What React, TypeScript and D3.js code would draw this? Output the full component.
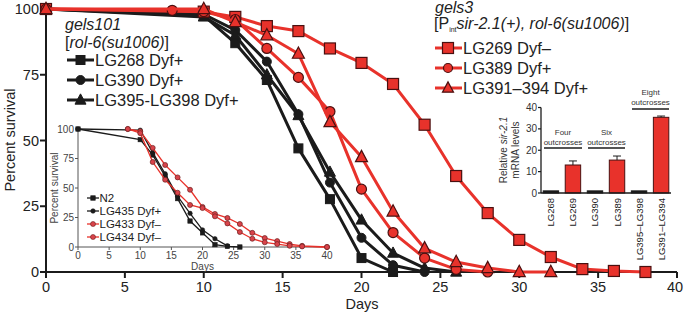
import React from "react";
import * as d3 from "d3";

type Pt = [number, number];

// ---- Main survival data (day, percent survival) ----
const LG268: Pt[] = [[0,100],[10,97.5],[12,87],[14,73],[16,47],[18,27.7],[20,5.3],[22,0]];
const LG390: Pt[] = [[0,100],[10,98],[12,92],[14,80],[16,60],[18,34],[20,13],[22,2.6],[24,0]];
const LG395: Pt[] = [[0,100],[10,97],[12,90],[14,75],[16,59.5],[18,38],[20,19.8],[22,7.2],[24,1.5],[26,0]];
const LG269: Pt[] = [[0,100],[10,99],[12,97],[14,93.5],[16,91.6],[18,85],[20,79.5],[22,71.5],[24,56],[26,36.5],[28,22.4],[30,12.2],[32,5.7],[34,1.1],[36,0.4],[38,0]];
const LG389: Pt[] = [[0,100],[8,99.5],[10,99],[12,96],[14,85],[16,74],[18,61],[20,31.5],[22,15],[24,5.3],[26,1],[28,0]];
const LG391: Pt[] = [[0,100],[10,100],[12,95],[14,90],[16,83],[18,57],[20,43.7],[22,23],[24,9],[26,3.8],[28,1.5],[30,0],[32,0]];

const mainXTicks = [0,5,10,15,20,25,30,35,40];
const mainYTicks = [0,25,50,75,100];

// ---- Inset survival data ----
const N2: Pt[] = [[0,100],[10,91],[12,78],[14,60],[16,41],[18,22],[20,12],[22,2],[24,0.5],[26,0]];
const LG435: Pt[] = [[0,100],[10,99],[12,80],[14,62],[16,43],[18,28.5],[20,14.5],[22,7],[24,1]];
const LG433: Pt[] = [[8,100],[10,98],[12,84],[14,69.5],[16,59],[18,48.5],[20,34],[22,28],[24,24.6],[26,19.5],[28,12],[30,7.6],[32,5],[34,2.5],[36,1],[40,0]];
const LG434: Pt[] = [[8,100],[10,96.5],[12,72],[14,57],[16,46],[18,35.6],[20,33],[22,26],[24,20],[26,12.7],[28,7],[30,4],[32,2.5],[34,1],[36,0.5],[40,0]];
const insetXTicks = [0,5,10,15,20,25,30,35,40];
const insetYTicks = [0,25,50,75,100];

// ---- Bar chart data ----
const barCats = ["LG268","LG269","LG390","LG389","LG395–LG398","LG391–LG394"];
const barVals = [1, 13.1, 1, 15.4, 1, 35.4];
const barErr = [0, 1.9, 0, 1.9, 0, 0.6];
const barIsRed = [false, true, false, true, false, true];
const barYTicks = [0,10,20,30,40];

const RED = "#e8322b";
const DARK = "#1b1b1b";
const EDGE = "#4a1010";
const FONT = "'Liberation Sans', Arial, Helvetica, sans-serif";

function Marker({ shape, x, y, size, fill, stroke, sw }: { shape: string; x: number; y: number; size: number; fill: string; stroke: string; sw: number }) {
  if (shape === "square") {
    return <rect x={x - size / 2} y={y - size / 2} width={size} height={size} fill={fill} stroke={stroke} strokeWidth={sw} />;
  }
  if (shape === "circle") {
    return <circle cx={x} cy={y} r={size / 2} fill={fill} stroke={stroke} strokeWidth={sw} />;
  }
  const h = size * 0.9;
  const p = `M${x},${y - h * 0.62} L${x + size / 2},${y + h * 0.42} L${x - size / 2},${y + h * 0.42} Z`;
  return <path d={p} fill={fill} stroke={stroke} strokeWidth={sw} />;
}

export default function App() {
  // main scales
  const x = d3.scaleLinear().domain([0, 40]).range([46, 677]);
  const y = d3.scaleLinear().domain([0, 100]).range([272, 9]);
  const line = d3.line<Pt>().x(d => x(d[0])).y(d => y(d[1]));

  // inset scales
  const ix = d3.scaleLinear().domain([0, 40]).range([78, 327]);
  const iy = d3.scaleLinear().domain([0, 100]).range([247, 129]);
  const iline = d3.line<Pt>().x(d => ix(d[0])).y(d => iy(d[1]));

  // bar scales
  const bx = d3.scaleBand<string>().domain(barCats).range([541, 671]).paddingInner(0.3).paddingOuter(0.1);
  const by = d3.scaleLinear().domain([0, 40]).range([193, 107.5]);

  const blackSeries = [
    { data: LG268, shape: "square", size: 9 },
    { data: LG390, shape: "circle", size: 9 },
    { data: LG395, shape: "triangle", size: 11 },
  ];
  const redSeries = [
    { data: LG269, shape: "square", size: 11 },
    { data: LG389, shape: "circle", size: 10 },
    { data: LG391, shape: "triangle", size: 12 },
  ];

  return (
    <div style={{ position: "absolute", left: 0, top: 0 }}>
      <svg width={685} height={313} style={{ display: "block", fontFamily: FONT }}>
        <rect width={685} height={313} fill="#fff" />

        {/* Main axes */}
        <line x1={x(0)} x2={x(40)} y1={y(0)} y2={y(0)} stroke={DARK} strokeWidth={2} />
        <line x1={x(0)} x2={x(0)} y1={y(0)} y2={y(100)} stroke={DARK} strokeWidth={2} />
        {mainYTicks.map(t => (
          <g key={"my" + t}>
            <line x1={x(0) - 6} x2={x(0)} y1={y(t)} y2={y(t)} stroke={DARK} strokeWidth={2} />
            <text x={x(0) - 7} y={y(t) + 5} fontSize={14.5} textAnchor="end" fill="#222">{t}</text>
          </g>
        ))}
        {mainXTicks.map(t => (
          <g key={"mx" + t}>
            <line x1={x(t)} x2={x(t)} y1={y(0)} y2={y(0) + 6} stroke={DARK} strokeWidth={2} />
            <text x={t === 40 ? x(t) - 2 : x(t)} y={292} fontSize={14.5} textAnchor="middle" fill="#222">{t}</text>
          </g>
        ))}
        <text x={362} y={309} fontSize={14.5} textAnchor="middle" fill="#222">Days</text>
        <text transform="translate(15,140) rotate(-90)" fontSize={14.5} textAnchor="middle" fill="#222">Percent survival</text>

        {/* Inset survival chart */}
        <line x1={ix(0)} x2={ix(40)} y1={iy(0)} y2={iy(0)} stroke="#555" strokeWidth={1} />
        <line x1={ix(0)} x2={ix(0)} y1={iy(0)} y2={iy(100)} stroke="#555" strokeWidth={1} />
        {insetYTicks.map(t => (
          <g key={"iy" + t}>
            <line x1={ix(0) - 3} x2={ix(0)} y1={iy(t)} y2={iy(t)} stroke="#555" />
            <text x={ix(0) - 4} y={iy(t) + 3.5} fontSize={10} textAnchor="end" fill="#444">{t}</text>
          </g>
        ))}
        {insetXTicks.map(t => (
          <g key={"ix" + t}>
            <line x1={ix(t)} x2={ix(t)} y1={iy(0)} y2={iy(0) + 3} stroke="#555" />
            <text x={ix(t)} y={iy(0) + 12} fontSize={10} textAnchor="middle" fill="#444">{t}</text>
          </g>
        ))}
        <text x={ix(20)} y={270} fontSize={10} textAnchor="middle" fill="#444">Days</text>
        <text transform={`translate(58,${iy(50)}) rotate(-90)`} fontSize={10} textAnchor="middle" fill="#444">Percent survival</text>

        {[N2, LG435].map((s, i) => (
          <g key={"ib" + i}>
            <path d={iline(s) || ""} fill="none" stroke={DARK} strokeWidth={1.3} />
            {s.map((d, j) => (
              <Marker key={j} shape={i === 0 ? "square" : "circle"} x={ix(d[0])} y={iy(d[1])} size={4.5} fill={DARK} stroke={DARK} sw={0.5} />
            ))}
          </g>
        ))}
        {[LG433, LG434].map((s, i) => (
          <g key={"ir" + i}>
            <path d={iline(s) || ""} fill="none" stroke={RED} strokeWidth={1.3} />
            {s.map((d, j) => (
              <Marker key={j} shape="circle" x={ix(d[0])} y={iy(d[1])} size={5} fill="#d9434a" stroke="#6a2020" sw={0.7} />
            ))}
          </g>
        ))}
        {/* inset legend */}
        {["N2", "LG435 Dyf+", "LG433 Dyf–", "LG434 Dyf–"].map((lab, i) => {
          const yy = 198 + i * 13;
          const red = i >= 2;
          return (
            <g key={"il" + i}>
              <line x1={87} x2={99} y1={yy} y2={yy} stroke={red ? RED : DARK} strokeWidth={1.3} />
              <Marker shape={i === 0 ? "square" : "circle"} x={93} y={yy} size={red ? 5 : 4.5} fill={red ? "#d9434a" : DARK} stroke={red ? "#6a2020" : DARK} sw={0.6} />
              <text x={99.5} y={yy + 4.2} fontSize={11.5} fill="#222">{lab}</text>
            </g>
          );
        })}

        {/* Main black series */}
        {blackSeries.map((s, i) => (
          <g key={"b" + i}>
            <path d={line(s.data) || ""} fill="none" stroke={DARK} strokeWidth={3} strokeLinejoin="round" />
            {s.data.map((d, j) => (
              <Marker key={j} shape={s.shape} x={x(d[0])} y={y(d[1])} size={s.size} fill={DARK} stroke={DARK} sw={1} />
            ))}
          </g>
        ))}
        {/* Main red series */}
        {redSeries.map((s, i) => (
          <g key={"r" + i}>
            <path d={line(s.data) || ""} fill="none" stroke={RED} strokeWidth={3} strokeLinejoin="round" />
            {s.data.map((d, j) => (
              <Marker key={j} shape={s.shape} x={x(d[0])} y={y(d[1])} size={s.size} fill={RED} stroke={EDGE} sw={1.2} />
            ))}
          </g>
        ))}

        {/* Left legend */}
        <text x={65} y={30} fontSize={16} fontStyle="italic" fill="#222">gels101</text>
        <text x={65} y={48} fontSize={16} fill="#222">[<tspan fontStyle="italic">rol-6(su1006)</tspan>]</text>
        {["LG268 Dyf+", "LG390 Dyf+", "LG395-LG398 Dyf+"].map((lab, i) => {
          const yy = 60 + i * 20;
          const shapes = ["square", "circle", "triangle"];
          return (
            <g key={"ll" + i}>
              <line x1={67} x2={94} y1={yy} y2={yy} stroke={DARK} strokeWidth={3} />
              <Marker shape={shapes[i]} x={80.5} y={yy} size={i === 2 ? 11 : 9} fill={DARK} stroke={DARK} sw={1} />
              <text x={95} y={yy + 6} fontSize={16.5} fill="#222">{lab}</text>
            </g>
          );
        })}

        {/* Right legend */}
        <text x={435} y={13} fontSize={16} fontStyle="italic" fill="#222">gels3</text>
        <text x={434} y={29} fontSize={16} fill="#222">[P<tspan fontSize={7} dy={3}>int</tspan><tspan dy={-3} fontStyle="italic">sir-2.1(+), rol-6(su1006)</tspan>]</text>
        {["LG269 Dyf–", "LG389 Dyf+", "LG391–394 Dyf+"].map((lab, i) => {
          const yy = 48 + i * 20;
          const shapes = ["square", "circle", "triangle"];
          return (
            <g key={"rl" + i}>
              <line x1={435} x2={462} y1={yy} y2={yy} stroke={RED} strokeWidth={3} />
              <Marker shape={shapes[i]} x={448} y={yy} size={i === 0 ? 11 : i === 1 ? 9 : 11} fill={RED} stroke={EDGE} sw={1.2} />
              <text x={463} y={yy + 6} fontSize={16.5} fill="#222">{lab}</text>
            </g>
          );
        })}

        {/* Bar chart inset */}
        {barCats.map((c, i) => {
          const x0 = bx(c) || 0;
          const w = bx.bandwidth();
          const top = by(barVals[i]);
          return (
            <g key={"bar" + i}>
              <rect x={x0} y={top} width={w} height={by(0) - top} fill={barIsRed[i] ? RED : DARK} stroke={barIsRed[i] ? EDGE : DARK} strokeWidth={1} />
              {barErr[i] > 0 && (
                <g stroke={DARK} strokeWidth={1}>
                  <line x1={x0 + w / 2} x2={x0 + w / 2} y1={top} y2={by(barVals[i] + barErr[i])} />
                  <line x1={x0 + w / 2 - 4} x2={x0 + w / 2 + 4} y1={by(barVals[i] + barErr[i])} y2={by(barVals[i] + barErr[i])} />
                </g>
              )}
              <text transform={`translate(${x0 + w / 2 + 3.5},198) rotate(-90)`} fontSize={9.5} textAnchor="end" fill="#222">{c}</text>
            </g>
          );
        })}
        <line x1={541} x2={671} y1={by(0)} y2={by(0)} stroke={DARK} strokeWidth={1.3} />
        <line x1={541} x2={541} y1={by(0)} y2={by(40)} stroke={DARK} strokeWidth={1.3} />
        {barYTicks.map(t => (
          <g key={"by" + t}>
            <line x1={538} x2={541} y1={by(t)} y2={by(t)} stroke={DARK} strokeWidth={1.2} />
            <text x={537} y={by(t) + 3.5} fontSize={10} textAnchor="end" fill="#333">{t}</text>
          </g>
        ))}
        <text transform="translate(507,150) rotate(-90)" fontSize={10} textAnchor="middle" fill="#333">Relative <tspan fontStyle="italic">sir-2.1</tspan></text>
        <text transform="translate(519,150) rotate(-90)" fontSize={10} textAnchor="middle" fill="#333">mRNA levels</text>
        {/* group annotations */}
        <line x1={544} x2={582} y1={148} y2={148} stroke={DARK} strokeWidth={1.3} />
        <line x1={588} x2={625} y1={148} y2={148} stroke={DARK} strokeWidth={1.3} />
        <line x1={632} x2={669} y1={109} y2={109} stroke={DARK} strokeWidth={1.3} />
        <text x={563} y={135} fontSize={8} textAnchor="middle" fill="#333">Four</text>
        <text x={563} y={145} fontSize={8} textAnchor="middle" fill="#333">outcrosses</text>
        <text x={606.5} y={135} fontSize={8} textAnchor="middle" fill="#333">Six</text>
        <text x={606.5} y={145} fontSize={8} textAnchor="middle" fill="#333">outcrosses</text>
        <text x={650.5} y={95} fontSize={8} textAnchor="middle" fill="#333">Eight</text>
        <text x={650.5} y={105} fontSize={8} textAnchor="middle" fill="#333">outcrosses</text>
      </svg>
    </div>
  );
}
